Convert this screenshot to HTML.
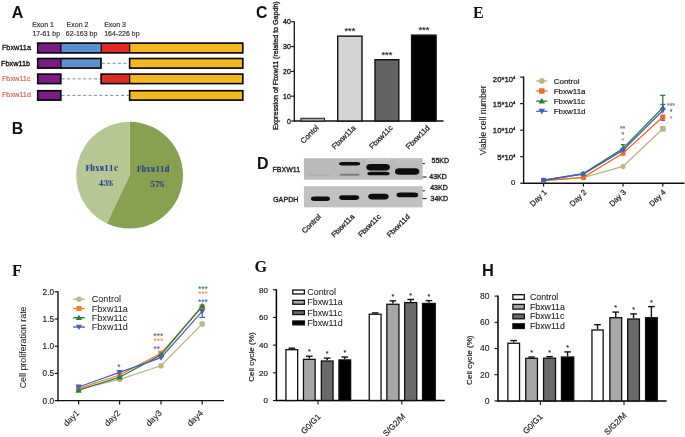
<!DOCTYPE html>
<html><head><meta charset="utf-8"><title>Figure</title>
<style>html,body{margin:0;padding:0;background:#fff;width:685px;height:437px;overflow:hidden}svg{display:block}</style>
</head><body>
<svg width="685" height="437" viewBox="0 0 685 437">
<text x="11.7" y="17.9" font-size="16" fill="#111" text-anchor="start" font-weight="bold" font-family="Liberation Sans, Arial, sans-serif">A</text>
<text x="32.2" y="27.2" font-size="7" fill="#3a3a3a" text-anchor="start" font-weight="normal" font-family="Liberation Sans, Arial, sans-serif" stroke="#3a3a3a" stroke-width="0.2">Exon 1</text>
<text x="32.4" y="35.9" font-size="7" fill="#3a3a3a" text-anchor="start" font-weight="normal" font-family="Liberation Sans, Arial, sans-serif" stroke="#3a3a3a" stroke-width="0.2">17-61 bp</text>
<text x="66.6" y="27.2" font-size="7" fill="#3a3a3a" text-anchor="start" font-weight="normal" font-family="Liberation Sans, Arial, sans-serif" stroke="#3a3a3a" stroke-width="0.2">Exon 2</text>
<text x="65.8" y="35.9" font-size="7" fill="#3a3a3a" text-anchor="start" font-weight="normal" font-family="Liberation Sans, Arial, sans-serif" stroke="#3a3a3a" stroke-width="0.2">62-163 bp</text>
<text x="104.2" y="27.2" font-size="7" fill="#3a3a3a" text-anchor="start" font-weight="normal" font-family="Liberation Sans, Arial, sans-serif" stroke="#3a3a3a" stroke-width="0.2">Exon 3</text>
<text x="104.2" y="35.9" font-size="7" fill="#3a3a3a" text-anchor="start" font-weight="normal" font-family="Liberation Sans, Arial, sans-serif" stroke="#3a3a3a" stroke-width="0.2">164-226 bp</text>
<text x="1.9" y="49.6" font-size="7.3" fill="#111" text-anchor="start" font-weight="normal" font-family="Liberation Sans, Arial, sans-serif" stroke="#111" stroke-width="0.26">Fbxw11a</text>
<text x="1.1" y="65.8" font-size="7.3" fill="#000" text-anchor="start" font-weight="normal" font-family="Liberation Sans, Arial, sans-serif" stroke="#000" stroke-width="0.26">Fbxw11b</text>
<text x="1.9" y="80.6" font-size="7.3" fill="#d9604f" text-anchor="start" font-weight="normal" font-family="Liberation Sans, Arial, sans-serif" stroke="#d9604f" stroke-width="0.15">Fbxw11c</text>
<text x="1.9" y="97.2" font-size="7.3" fill="#d9604f" text-anchor="start" font-weight="normal" font-family="Liberation Sans, Arial, sans-serif" stroke="#d9604f" stroke-width="0.15">Fbxw11d</text>
<rect x="36.9" y="42.3" width="206.7" height="11.4" fill="#000" stroke="none" stroke-width="0"/>
<rect x="38.5" y="43.9" width="21.95" height="8.2" fill="#7a1b86" stroke="none" stroke-width="0"/>
<rect x="61.55" y="43.9" width="39.1" height="8.2" fill="#5b8fd0" stroke="none" stroke-width="0"/>
<rect x="101.75" y="43.9" width="27.4" height="8.2" fill="#e02a24" stroke="none" stroke-width="0"/>
<rect x="130.25" y="43.9" width="111.75" height="8.2" fill="#f2b820" stroke="none" stroke-width="0"/>
<line x1="101.8" y1="63.3" x2="128.8" y2="63.3" stroke="#6f8fb8" stroke-width="1" stroke-dasharray="3 2.4"/>
<rect x="36.9" y="57.7" width="64.9" height="11.2" fill="#000" stroke="none" stroke-width="0"/>
<rect x="38.5" y="59.3" width="21.95" height="8" fill="#7a1b86" stroke="none" stroke-width="0"/>
<rect x="61.55" y="59.3" width="38.65" height="8" fill="#5b8fd0" stroke="none" stroke-width="0"/>
<rect x="128.8" y="57.7" width="114.8" height="11.2" fill="#000" stroke="none" stroke-width="0"/>
<rect x="130.4" y="59.3" width="111.6" height="8" fill="#f2b820" stroke="none" stroke-width="0"/>
<line x1="61.6" y1="78.85" x2="100.3" y2="78.85" stroke="#6f8fb8" stroke-width="1" stroke-dasharray="3 2.4"/>
<rect x="36.9" y="73.3" width="24.7" height="11.1" fill="#000" stroke="none" stroke-width="0"/>
<rect x="38.5" y="74.9" width="21.5" height="7.9" fill="#7a1b86" stroke="none" stroke-width="0"/>
<rect x="100.3" y="73.3" width="143.3" height="11.1" fill="#000" stroke="none" stroke-width="0"/>
<rect x="101.9" y="74.9" width="27.25" height="7.9" fill="#e02a24" stroke="none" stroke-width="0"/>
<rect x="130.25" y="74.9" width="111.75" height="7.9" fill="#f2b820" stroke="none" stroke-width="0"/>
<line x1="61.6" y1="95.4" x2="128.8" y2="95.4" stroke="#6f8fb8" stroke-width="1" stroke-dasharray="3 2.4"/>
<rect x="36.9" y="89.9" width="24.7" height="11" fill="#000" stroke="none" stroke-width="0"/>
<rect x="38.5" y="91.5" width="21.5" height="7.8" fill="#7a1b86" stroke="none" stroke-width="0"/>
<rect x="128.8" y="89.9" width="114.8" height="11" fill="#000" stroke="none" stroke-width="0"/>
<rect x="130.4" y="91.5" width="111.6" height="7.8" fill="#f2b820" stroke="none" stroke-width="0"/>
<text x="11.8" y="134.1" font-size="16" fill="#111" text-anchor="start" font-weight="bold" font-family="Liberation Sans, Arial, sans-serif">B</text>
<path d="M129.6 175.2 L129.6 121.8 A53.4 53.4 0 1 1 106.86 223.52 Z" fill="#88a151"/>
<path d="M129.6 175.2 L106.86 223.52 A53.4 53.4 0 0 1 129.6 121.8 Z" fill="#b7c794"/>
<text transform="translate(85.6 170.8) scale(1.2 1)" x="0" y="0" font-size="7.8" font-weight="800" fill="#2c468c" font-family="Noto Serif CJK SC, serif" style="font-feature-settings:&quot;hwid&quot;">Fbxw11c</text>
<text transform="translate(98.8 186) scale(1.2 1)" x="0" y="0" font-size="7.8" font-weight="800" fill="#2c468c" font-family="Noto Serif CJK SC, serif" style="font-feature-settings:&quot;hwid&quot;">43%</text>
<text transform="translate(136.7 171.5) scale(1.2 1)" x="0" y="0" font-size="7.8" font-weight="800" fill="#2c468c" font-family="Noto Serif CJK SC, serif" style="font-feature-settings:&quot;hwid&quot;">Fbxw11d</text>
<text transform="translate(150.2 186.8) scale(1.2 1)" x="0" y="0" font-size="7.8" font-weight="800" fill="#2c468c" font-family="Noto Serif CJK SC, serif" style="font-feature-settings:&quot;hwid&quot;">57%</text>
<text x="256" y="17.7" font-size="15.8" fill="#111" text-anchor="start" font-weight="bold" font-family="Liberation Sans, Arial, sans-serif">C</text>
<line x1="294.3" y1="21.3" x2="294.3" y2="121.6" stroke="#111" stroke-width="1.3"/>
<line x1="293.7" y1="121" x2="443.5" y2="121" stroke="#111" stroke-width="1.3"/>
<line x1="291.1" y1="121" x2="294.3" y2="121" stroke="#111" stroke-width="1.1"/>
<text x="290.8" y="123.5" font-size="7" fill="#222" text-anchor="end" font-weight="normal" font-family="Liberation Sans, Arial, sans-serif" stroke="#222" stroke-width="0.35">0</text>
<line x1="291.1" y1="96.2" x2="294.3" y2="96.2" stroke="#111" stroke-width="1.1"/>
<text x="290.8" y="98.7" font-size="7" fill="#222" text-anchor="end" font-weight="normal" font-family="Liberation Sans, Arial, sans-serif" stroke="#222" stroke-width="0.35">10</text>
<line x1="291.1" y1="71.4" x2="294.3" y2="71.4" stroke="#111" stroke-width="1.1"/>
<text x="290.8" y="73.9" font-size="7" fill="#222" text-anchor="end" font-weight="normal" font-family="Liberation Sans, Arial, sans-serif" stroke="#222" stroke-width="0.35">20</text>
<line x1="291.1" y1="46.6" x2="294.3" y2="46.6" stroke="#111" stroke-width="1.1"/>
<text x="290.8" y="49.1" font-size="7" fill="#222" text-anchor="end" font-weight="normal" font-family="Liberation Sans, Arial, sans-serif" stroke="#222" stroke-width="0.35">30</text>
<line x1="291.1" y1="21.8" x2="294.3" y2="21.8" stroke="#111" stroke-width="1.1"/>
<text x="290.8" y="24.3" font-size="7" fill="#222" text-anchor="end" font-weight="normal" font-family="Liberation Sans, Arial, sans-serif" stroke="#222" stroke-width="0.35">40</text>
<text x="278.4" y="65.7" font-size="7.1" fill="#222" text-anchor="middle" font-weight="normal" font-family="Liberation Sans, Arial, sans-serif" transform="rotate(-90 278.4 65.7)" stroke="#222" stroke-width="0.34">Expression of Fbxw11 (related to Gapdh)</text>
<rect x="300.9" y="118.22" width="23.7" height="2.78" fill="#a8a8a8" stroke="#111" stroke-width="0.9"/>
<rect x="337.7" y="36.14" width="24.3" height="84.86" fill="#d4d4d4" stroke="#111" stroke-width="1.4"/>
<text x="349.85" y="34.47" font-size="9.3" fill="#222" text-anchor="middle" font-family="Liberation Sans, Arial, sans-serif" stroke="#222" stroke-width="0.15">***</text>
<rect x="375" y="59.7" width="23.8" height="61.3" fill="#636363" stroke="#111" stroke-width="1.4"/>
<text x="386.9" y="58.03" font-size="9.3" fill="#222" text-anchor="middle" font-family="Liberation Sans, Arial, sans-serif" stroke="#222" stroke-width="0.15">***</text>
<rect x="411.6" y="35.14" width="24.5" height="85.86" fill="#000" stroke="#111" stroke-width="1.4"/>
<text x="423.85" y="33.48" font-size="9.3" fill="#222" text-anchor="middle" font-family="Liberation Sans, Arial, sans-serif" stroke="#222" stroke-width="0.15">***</text>
<text x="319.15" y="128.4" font-size="7.6" fill="#222" text-anchor="end" font-weight="normal" font-family="Liberation Sans, Arial, sans-serif" transform="rotate(-45 319.15 128.4)" stroke="#222" stroke-width="0.26">Contol</text>
<text x="356.25" y="128.4" font-size="7.6" fill="#222" text-anchor="end" font-weight="normal" font-family="Liberation Sans, Arial, sans-serif" transform="rotate(-45 356.25 128.4)" stroke="#222" stroke-width="0.26">Fbxw11a</text>
<text x="393.3" y="128.4" font-size="7.6" fill="#222" text-anchor="end" font-weight="normal" font-family="Liberation Sans, Arial, sans-serif" transform="rotate(-45 393.3 128.4)" stroke="#222" stroke-width="0.26">Fbxw11c</text>
<text x="430.25" y="128.4" font-size="7.6" fill="#222" text-anchor="end" font-weight="normal" font-family="Liberation Sans, Arial, sans-serif" transform="rotate(-45 430.25 128.4)" stroke="#222" stroke-width="0.26">Fbxw11d</text>
<text x="256.9" y="168.7" font-size="16" fill="#111" text-anchor="start" font-weight="bold" font-family="Liberation Sans, Arial, sans-serif">D</text>
<text x="272.6" y="172.3" font-size="7" fill="#222" text-anchor="start" font-weight="normal" font-family="Liberation Sans, Arial, sans-serif" stroke="#222" stroke-width="0.35">FBXW11</text>
<text x="273" y="201.8" font-size="7.2" fill="#222" text-anchor="start" font-weight="normal" font-family="Liberation Sans, Arial, sans-serif" stroke="#222" stroke-width="0.32">GAPDH</text>
<defs><filter id="bl" x="-20%" y="-100%" width="140%" height="300%"><feGaussianBlur stdDeviation="0.65"/></filter><linearGradient id="g1" x1="0" y1="0" x2="0" y2="1"><stop offset="0" stop-color="#c8c8c8"/><stop offset="0.5" stop-color="#c0c0c0"/><stop offset="1" stop-color="#bababa"/></linearGradient></defs>
<rect x="303.9" y="158.2" width="118.7" height="21.5" fill="#bababa" stroke="none" stroke-width="0"/>
<rect x="366" y="158.2" width="24" height="9" fill="url(#g1)" stroke="none" stroke-width="0" filter="url(#bl)"/>
<rect x="396" y="158.2" width="24" height="9" fill="url(#g1)" stroke="none" stroke-width="0" filter="url(#bl)" opacity="0.6"/>
<rect x="303.9" y="186.2" width="118.7" height="21.1" fill="#c1c1c1" stroke="none" stroke-width="0"/>
<rect x="339" y="162.1" width="21.2" height="3.4" rx="3.06" ry="1.7" fill="#0c0c0c" opacity="1" filter="url(#bl)"/>
<rect x="339.5" y="173.8" width="20.1" height="2" rx="1.8" ry="1" fill="#0c0c0c" opacity="0.35" filter="url(#bl)"/>
<rect x="309.5" y="174.15" width="20.5" height="1.5" rx="1.35" ry="0.75" fill="#0c0c0c" opacity="0.08" filter="url(#bl)"/>
<rect x="366.4" y="164.1" width="23.5" height="6.4" rx="4.27" ry="3.2" fill="#0c0c0c" opacity="1" filter="url(#bl)"/>
<rect x="367.4" y="171.65" width="22.2" height="3.7" rx="3.33" ry="1.85" fill="#0c0c0c" opacity="1" filter="url(#bl)"/>
<rect x="395" y="168.25" width="24.3" height="6.5" rx="4.42" ry="3.25" fill="#0c0c0c" opacity="1" filter="url(#bl)"/>
<rect x="311" y="196.6" width="19" height="4.4" rx="3.45" ry="2.2" fill="#0c0c0c" opacity="1" filter="url(#bl)"/>
<rect x="339.1" y="195.3" width="20.1" height="4.6" rx="3.65" ry="2.3" fill="#0c0c0c" opacity="1" filter="url(#bl)"/>
<rect x="368.2" y="193.8" width="20.5" height="5.6" rx="3.73" ry="2.8" fill="#0c0c0c" opacity="1" filter="url(#bl)"/>
<rect x="396.5" y="192.45" width="21.7" height="4.9" rx="3.95" ry="2.45" fill="#0c0c0c" opacity="1" filter="url(#bl)"/>
<line x1="422.6" y1="163.6" x2="424.8" y2="163.6" stroke="#222" stroke-width="1.1"/>
<line x1="422.6" y1="177" x2="426.6" y2="177" stroke="#222" stroke-width="1.1"/>
<line x1="422.6" y1="190.8" x2="424.8" y2="190.8" stroke="#222" stroke-width="1.1"/>
<line x1="422.6" y1="198.6" x2="426.6" y2="198.6" stroke="#222" stroke-width="1.1"/>
<text x="431.5" y="163.4" font-size="7" fill="#222" text-anchor="start" font-weight="normal" font-family="Liberation Sans, Arial, sans-serif" stroke="#222" stroke-width="0.35">55KD</text>
<text x="429.3" y="179.4" font-size="7" fill="#222" text-anchor="start" font-weight="normal" font-family="Liberation Sans, Arial, sans-serif" stroke="#222" stroke-width="0.35">43KD</text>
<text x="430.2" y="190.1" font-size="7" fill="#222" text-anchor="start" font-weight="normal" font-family="Liberation Sans, Arial, sans-serif" stroke="#222" stroke-width="0.35">43KD</text>
<text x="430.5" y="201.3" font-size="7" fill="#222" text-anchor="start" font-weight="normal" font-family="Liberation Sans, Arial, sans-serif" stroke="#222" stroke-width="0.35">34KD</text>
<text x="321.5" y="217.2" font-size="7.3" fill="#222" text-anchor="end" font-weight="normal" font-family="Liberation Sans, Arial, sans-serif" transform="rotate(-45 321.5 217.2)" stroke="#222" stroke-width="0.3">Control</text>
<text x="354.8" y="217.2" font-size="7.3" fill="#222" text-anchor="end" font-weight="normal" font-family="Liberation Sans, Arial, sans-serif" transform="rotate(-45 354.8 217.2)" stroke="#222" stroke-width="0.3">Fbxw11a</text>
<text x="381.3" y="217.2" font-size="7.3" fill="#222" text-anchor="end" font-weight="normal" font-family="Liberation Sans, Arial, sans-serif" transform="rotate(-45 381.3 217.2)" stroke="#222" stroke-width="0.3">Fbxw11c</text>
<text x="410.3" y="217.2" font-size="7.3" fill="#222" text-anchor="end" font-weight="normal" font-family="Liberation Sans, Arial, sans-serif" transform="rotate(-45 410.3 217.2)" stroke="#222" stroke-width="0.3">Fbxw11d</text>
<text x="473" y="17.9" font-size="16" fill="#111" text-anchor="start" font-weight="bold" font-family="Liberation Serif, Times New Roman, serif">E</text>
<line x1="523.6" y1="76.6" x2="523.6" y2="183.8" stroke="#111" stroke-width="1.4"/>
<line x1="523" y1="183.2" x2="684.5" y2="183.2" stroke="#111" stroke-width="1.4"/>
<line x1="520.2" y1="183.2" x2="523.6" y2="183.2" stroke="#111" stroke-width="1.2"/>
<text x="515.4" y="184.6" font-size="7.7" fill="#222" text-anchor="end" font-weight="normal" font-family="Liberation Sans, Arial, sans-serif" stroke="#222" stroke-width="0.24">0</text>
<line x1="520.2" y1="156.67" x2="523.6" y2="156.67" stroke="#111" stroke-width="1.2"/>
<text x="515.3" y="159.97" font-size="7.7" fill="#222" stroke="#222" stroke-width="0.35" text-anchor="end" font-family="Liberation Sans, Arial, sans-serif">5*10<tspan font-size="4.2" dy="-3.0">4</tspan></text>
<line x1="520.2" y1="130.15" x2="523.6" y2="130.15" stroke="#111" stroke-width="1.2"/>
<text x="515.3" y="133.45" font-size="7.7" fill="#222" stroke="#222" stroke-width="0.35" text-anchor="end" font-family="Liberation Sans, Arial, sans-serif">10*10<tspan font-size="4.2" dy="-3.0">4</tspan></text>
<line x1="520.2" y1="103.62" x2="523.6" y2="103.62" stroke="#111" stroke-width="1.2"/>
<text x="515.3" y="106.92" font-size="7.7" fill="#222" stroke="#222" stroke-width="0.35" text-anchor="end" font-family="Liberation Sans, Arial, sans-serif">15*10<tspan font-size="4.2" dy="-3.0">4</tspan></text>
<line x1="520.2" y1="77.1" x2="523.6" y2="77.1" stroke="#111" stroke-width="1.2"/>
<text x="515.3" y="82.1" font-size="7.7" fill="#222" stroke="#222" stroke-width="0.35" text-anchor="end" font-family="Liberation Sans, Arial, sans-serif">20*10<tspan font-size="4.2" dy="-3.0">4</tspan></text>
<line x1="543.6" y1="183.2" x2="543.6" y2="186.6" stroke="#111" stroke-width="1.2"/>
<line x1="583.4" y1="183.2" x2="583.4" y2="186.6" stroke="#111" stroke-width="1.2"/>
<line x1="623" y1="183.2" x2="623" y2="186.6" stroke="#111" stroke-width="1.2"/>
<line x1="662.8" y1="183.2" x2="662.8" y2="186.6" stroke="#111" stroke-width="1.2"/>
<text x="485.9" y="120.4" font-size="8.5" fill="#222" text-anchor="middle" font-weight="normal" font-family="Liberation Sans, Arial, sans-serif" transform="rotate(-90 485.9 120.4)" stroke="#222" stroke-width="0.12">Viable cell number</text>
<text x="547.2" y="192.8" font-size="7.7" fill="#222" text-anchor="end" font-weight="normal" font-family="Liberation Sans, Arial, sans-serif" transform="rotate(-45 547.2 192.8)" stroke="#222" stroke-width="0.24">Day 1</text>
<text x="587" y="192.8" font-size="7.7" fill="#222" text-anchor="end" font-weight="normal" font-family="Liberation Sans, Arial, sans-serif" transform="rotate(-45 587 192.8)" stroke="#222" stroke-width="0.24">Day 2</text>
<text x="626.6" y="192.8" font-size="7.7" fill="#222" text-anchor="end" font-weight="normal" font-family="Liberation Sans, Arial, sans-serif" transform="rotate(-45 626.6 192.8)" stroke="#222" stroke-width="0.24">Day 3</text>
<text x="666.4" y="192.8" font-size="7.7" fill="#222" text-anchor="end" font-weight="normal" font-family="Liberation Sans, Arial, sans-serif" transform="rotate(-45 666.4 192.8)" stroke="#222" stroke-width="0.24">Day 4</text>
<line x1="662.8" y1="107.6" x2="662.8" y2="95.4" stroke="#24803f" stroke-width="1.3"/>
<line x1="660.2" y1="95.4" x2="665.4" y2="95.4" stroke="#24803f" stroke-width="1.3"/>
<line x1="662.8" y1="110.52" x2="662.8" y2="104.4" stroke="#4d5fb5" stroke-width="1.2"/>
<line x1="660.2" y1="104.4" x2="665.4" y2="104.4" stroke="#4d5fb5" stroke-width="1.2"/>
<line x1="623" y1="148.51" x2="623" y2="144.6" stroke="#24803f" stroke-width="1.2"/>
<line x1="620.8" y1="144.6" x2="625.2" y2="144.6" stroke="#24803f" stroke-width="1.2"/>
<line x1="662.8" y1="116.89" x2="662.8" y2="120.2" stroke="#9a4a3a" stroke-width="1.4"/>
<line x1="660.6" y1="120.2" x2="665" y2="120.2" stroke="#9a4a3a" stroke-width="1.4"/>
<polyline points="543.6,180.55 583.4,177.63 623,166.49 662.8,128.82" fill="none" stroke="#bdb485" stroke-width="1.35"/>
<circle cx="543.6" cy="180.55" r="2.6" fill="#bdb485"/>
<circle cx="583.4" cy="177.63" r="2.6" fill="#bdb485"/>
<circle cx="623" cy="166.49" r="2.6" fill="#bdb485"/>
<circle cx="662.8" cy="128.82" r="2.6" fill="#bdb485"/>
<polyline points="543.6,180.55 583.4,177.36 623,153.28 662.8,116.89" fill="none" stroke="#e86a32" stroke-width="1.35"/>
<rect x="541.13" y="178.08" width="4.94" height="4.94" fill="#e86a32" stroke="none" stroke-width="0"/>
<rect x="580.93" y="174.89" width="4.94" height="4.94" fill="#e86a32" stroke="none" stroke-width="0"/>
<rect x="620.53" y="150.81" width="4.94" height="4.94" fill="#e86a32" stroke="none" stroke-width="0"/>
<rect x="660.33" y="114.42" width="4.94" height="4.94" fill="#e86a32" stroke="none" stroke-width="0"/>
<polyline points="543.6,180.28 583.4,173.65 623,148.51 662.8,107.6" fill="none" stroke="#24803f" stroke-width="1.35"/>
<path d="M543.6 177.29 L546.59 182.49 L540.61 182.49 Z" fill="#24803f"/>
<path d="M583.4 170.66 L586.39 175.86 L580.41 175.86 Z" fill="#24803f"/>
<path d="M623 145.52 L625.99 150.72 L620.01 150.72 Z" fill="#24803f"/>
<path d="M662.8 104.61 L665.79 109.81 L659.81 109.81 Z" fill="#24803f"/>
<polyline points="543.6,180.28 583.4,174.02 623,150.2 662.8,110.52" fill="none" stroke="#4d5fb5" stroke-width="1.35"/>
<path d="M543.6 183.27 L546.59 178.07 L540.61 178.07 Z" fill="#4d5fb5"/>
<path d="M583.4 177.01 L586.39 171.81 L580.41 171.81 Z" fill="#4d5fb5"/>
<path d="M623 153.19 L625.99 147.99 L620.01 147.99 Z" fill="#4d5fb5"/>
<path d="M662.8 113.51 L665.79 108.31 L659.81 108.31 Z" fill="#4d5fb5"/>
<rect x="660.04" y="126.07" width="5.51" height="5.51" fill="#bdb485" stroke="none" stroke-width="0"/>
<rect x="541.23" y="177.91" width="4.75" height="4.75" fill="#4d5fb5" stroke="none" stroke-width="0"/>
<text x="622.6" y="131.04" font-size="6.8" fill="#4f7f5a" text-anchor="middle" font-family="Liberation Sans, Arial, sans-serif" stroke="#4f7f5a" stroke-width="0.15">**</text>
<text x="622.8" y="136.74" font-size="6.8" fill="#4d5fb5" text-anchor="middle" font-family="Liberation Sans, Arial, sans-serif" stroke="#4d5fb5" stroke-width="0.15">*</text>
<text x="622.8" y="142.64" font-size="6.8" fill="#e8894a" text-anchor="middle" font-family="Liberation Sans, Arial, sans-serif" stroke="#e8894a" stroke-width="0.15">*</text>
<text x="671" y="107.99" font-size="6.9" fill="#6f8a70" text-anchor="middle" font-family="Liberation Sans, Arial, sans-serif" stroke="#6f8a70" stroke-width="0.15">***</text>
<text x="671.2" y="114.19" font-size="6.9" fill="#4d5fb5" text-anchor="middle" font-family="Liberation Sans, Arial, sans-serif" stroke="#4d5fb5" stroke-width="0.15">*</text>
<text x="671.2" y="120.89" font-size="6.9" fill="#e8894a" text-anchor="middle" font-family="Liberation Sans, Arial, sans-serif" stroke="#e8894a" stroke-width="0.15">*</text>
<line x1="536.2" y1="80.9" x2="547.4" y2="80.9" stroke="#bdb485" stroke-width="1.3"/>
<circle cx="541.8" cy="80.9" r="2.85" fill="#bdb485"/>
<text x="553.7" y="83.7" font-size="8" fill="#222" text-anchor="start" font-weight="normal" font-family="Liberation Sans, Arial, sans-serif" stroke="#222" stroke-width="0.2">Control</text>
<line x1="536.2" y1="91.03" x2="547.4" y2="91.03" stroke="#e86a32" stroke-width="1.3"/>
<rect x="539.09" y="88.32" width="5.42" height="5.42" fill="#e86a32" stroke="none" stroke-width="0"/>
<text x="553.7" y="93.83" font-size="8" fill="#222" text-anchor="start" font-weight="normal" font-family="Liberation Sans, Arial, sans-serif" stroke="#222" stroke-width="0.2">Fbxw11a</text>
<line x1="536.2" y1="101.16" x2="547.4" y2="101.16" stroke="#24803f" stroke-width="1.3"/>
<path d="M541.8 97.88 L545.08 103.58 L538.52 103.58 Z" fill="#24803f"/>
<text x="553.7" y="103.96" font-size="8" fill="#222" text-anchor="start" font-weight="normal" font-family="Liberation Sans, Arial, sans-serif" stroke="#222" stroke-width="0.2">Fbxw11c</text>
<line x1="536.2" y1="111.29" x2="547.4" y2="111.29" stroke="#4d5fb5" stroke-width="1.3"/>
<path d="M541.8 114.57 L545.08 108.87 L538.52 108.87 Z" fill="#4d5fb5"/>
<text x="553.7" y="114.09" font-size="8" fill="#222" text-anchor="start" font-weight="normal" font-family="Liberation Sans, Arial, sans-serif" stroke="#222" stroke-width="0.2">Fbxw11d</text>
<text x="12" y="275.7" font-size="16.2" fill="#111" text-anchor="start" font-weight="bold" font-family="Liberation Serif, Times New Roman, serif">F</text>
<line x1="58" y1="291.3" x2="58" y2="401.3" stroke="#111" stroke-width="1.4"/>
<line x1="57.3" y1="400.6" x2="224" y2="400.6" stroke="#111" stroke-width="1.4"/>
<line x1="54.7" y1="400.6" x2="58" y2="400.6" stroke="#111" stroke-width="1.2"/>
<text x="54" y="403.5" font-size="8.2" fill="#222" text-anchor="end" font-weight="normal" font-family="Liberation Sans, Arial, sans-serif" stroke="#222" stroke-width="0.17">0.0</text>
<line x1="54.7" y1="373.4" x2="58" y2="373.4" stroke="#111" stroke-width="1.2"/>
<text x="54" y="376.3" font-size="8.2" fill="#222" text-anchor="end" font-weight="normal" font-family="Liberation Sans, Arial, sans-serif" stroke="#222" stroke-width="0.17">0.5</text>
<line x1="54.7" y1="346.2" x2="58" y2="346.2" stroke="#111" stroke-width="1.2"/>
<text x="54" y="349.1" font-size="8.2" fill="#222" text-anchor="end" font-weight="normal" font-family="Liberation Sans, Arial, sans-serif" stroke="#222" stroke-width="0.17">1.0</text>
<line x1="54.7" y1="319" x2="58" y2="319" stroke="#111" stroke-width="1.2"/>
<text x="54" y="321.9" font-size="8.2" fill="#222" text-anchor="end" font-weight="normal" font-family="Liberation Sans, Arial, sans-serif" stroke="#222" stroke-width="0.17">1.5</text>
<line x1="54.7" y1="291.8" x2="58" y2="291.8" stroke="#111" stroke-width="1.2"/>
<text x="54" y="294.7" font-size="8.2" fill="#222" text-anchor="end" font-weight="normal" font-family="Liberation Sans, Arial, sans-serif" stroke="#222" stroke-width="0.17">2.0</text>
<line x1="78.6" y1="400.6" x2="78.6" y2="404.6" stroke="#111" stroke-width="1.2"/>
<line x1="119.6" y1="400.6" x2="119.6" y2="404.6" stroke="#111" stroke-width="1.2"/>
<line x1="161" y1="400.6" x2="161" y2="404.6" stroke="#111" stroke-width="1.2"/>
<line x1="202.2" y1="400.6" x2="202.2" y2="404.6" stroke="#111" stroke-width="1.2"/>
<text x="25.6" y="347.4" font-size="8.9" fill="#222" text-anchor="middle" font-weight="normal" font-family="Liberation Sans, Arial, sans-serif" transform="rotate(-90 25.6 347.4)" stroke="#222" stroke-width="0.06">Cell proliferation rate</text>
<text x="80" y="413.6" font-size="8.6" fill="#222" text-anchor="end" font-weight="normal" font-family="Liberation Sans, Arial, sans-serif" transform="rotate(-45 80 413.6)" stroke="#222" stroke-width="0.11">day1</text>
<text x="121" y="413.6" font-size="8.6" fill="#222" text-anchor="end" font-weight="normal" font-family="Liberation Sans, Arial, sans-serif" transform="rotate(-45 121 413.6)" stroke="#222" stroke-width="0.11">day2</text>
<text x="162.4" y="413.6" font-size="8.6" fill="#222" text-anchor="end" font-weight="normal" font-family="Liberation Sans, Arial, sans-serif" transform="rotate(-45 162.4 413.6)" stroke="#222" stroke-width="0.11">day3</text>
<text x="203.6" y="413.6" font-size="8.6" fill="#222" text-anchor="end" font-weight="normal" font-family="Liberation Sans, Arial, sans-serif" transform="rotate(-45 203.6 413.6)" stroke="#222" stroke-width="0.11">day4</text>
<line x1="202.2" y1="311.38" x2="202.2" y2="317.37" stroke="#4d5fb5" stroke-width="1.2"/>
<line x1="199.2" y1="317.37" x2="205.2" y2="317.37" stroke="#4d5fb5" stroke-width="1.2"/>
<polyline points="78.6,389.18 119.6,379.38 161,365.78 202.2,323.9" fill="none" stroke="#bdb485" stroke-width="1.25"/>
<circle cx="78.6" cy="389.18" r="2.8" fill="#bdb485"/>
<circle cx="119.6" cy="379.38" r="2.8" fill="#bdb485"/>
<circle cx="161" cy="365.78" r="2.8" fill="#bdb485"/>
<circle cx="202.2" cy="323.9" r="2.8" fill="#bdb485"/>
<polyline points="78.6,388.63 119.6,375.03 161,353.27 202.2,307.03" fill="none" stroke="#f07f2a" stroke-width="1.25"/>
<rect x="75.94" y="385.97" width="5.32" height="5.32" fill="#f07f2a" stroke="none" stroke-width="0"/>
<rect x="116.94" y="372.37" width="5.32" height="5.32" fill="#f07f2a" stroke="none" stroke-width="0"/>
<rect x="158.34" y="350.61" width="5.32" height="5.32" fill="#f07f2a" stroke="none" stroke-width="0"/>
<rect x="199.54" y="304.37" width="5.32" height="5.32" fill="#f07f2a" stroke="none" stroke-width="0"/>
<polyline points="78.6,390.26 119.6,377.21 161,354.9 202.2,305.94" fill="none" stroke="#24803f" stroke-width="1.25"/>
<path d="M78.6 387.04 L81.82 392.64 L75.38 392.64 Z" fill="#24803f"/>
<path d="M119.6 373.99 L122.82 379.59 L116.38 379.59 Z" fill="#24803f"/>
<path d="M161 351.68 L164.22 357.28 L157.78 357.28 Z" fill="#24803f"/>
<path d="M202.2 302.72 L205.42 308.32 L198.98 308.32 Z" fill="#24803f"/>
<polyline points="78.6,387 119.6,372.31 161,357.62 202.2,311.38" fill="none" stroke="#4d5fb5" stroke-width="1.25"/>
<path d="M78.6 390.22 L81.82 384.62 L75.38 384.62 Z" fill="#4d5fb5"/>
<path d="M119.6 375.53 L122.82 369.93 L116.38 369.93 Z" fill="#4d5fb5"/>
<path d="M161 360.84 L164.22 355.24 L157.78 355.24 Z" fill="#4d5fb5"/>
<path d="M202.2 314.6 L205.42 309 L198.98 309 Z" fill="#4d5fb5"/>
<text x="117.2" y="369.87" font-size="8.4" fill="#4f5fb3" font-family="Liberation Sans, Arial, sans-serif" stroke="#4f5fb3" stroke-width="0.12">*</text>
<text x="153.4" y="338.87" font-size="8.4" fill="#3f7f50" font-family="Liberation Sans, Arial, sans-serif" stroke="#3f7f50" stroke-width="0.12">***</text>
<text x="153.4" y="344.37" font-size="8.4" fill="#eb9660" font-family="Liberation Sans, Arial, sans-serif" stroke="#eb9660" stroke-width="0.12">***</text>
<text x="153.6" y="351.77" font-size="8.4" fill="#4f5fb3" font-family="Liberation Sans, Arial, sans-serif" stroke="#4f5fb3" stroke-width="0.12">**</text>
<text x="198" y="291.67" font-size="8.4" fill="#3f7f50" font-family="Liberation Sans, Arial, sans-serif" stroke="#3f7f50" stroke-width="0.12">***</text>
<text x="198" y="297.27" font-size="8.4" fill="#eb9660" font-family="Liberation Sans, Arial, sans-serif" stroke="#eb9660" stroke-width="0.12">***</text>
<text x="198" y="304.57" font-size="8.4" fill="#4f5fb3" font-family="Liberation Sans, Arial, sans-serif" stroke="#4f5fb3" stroke-width="0.12">***</text>
<line x1="73.1" y1="299.2" x2="84.8" y2="299.2" stroke="#bdb485" stroke-width="1.4"/>
<circle cx="79" cy="299.2" r="2.65" fill="#bdb485"/>
<text x="91.8" y="302.3" font-size="9.06" fill="#222" text-anchor="start" font-weight="normal" font-family="Liberation Sans, Arial, sans-serif" stroke="#222" stroke-width="0.04">Control</text>
<line x1="73.1" y1="308.47" x2="84.8" y2="308.47" stroke="#f07f2a" stroke-width="1.4"/>
<rect x="76.48" y="305.95" width="5.03" height="5.03" fill="#f07f2a" stroke="none" stroke-width="0"/>
<text x="91.8" y="311.57" font-size="9.06" fill="#222" text-anchor="start" font-weight="normal" font-family="Liberation Sans, Arial, sans-serif" stroke="#222" stroke-width="0.04">Fbxw11a</text>
<line x1="73.1" y1="317.74" x2="84.8" y2="317.74" stroke="#24803f" stroke-width="1.4"/>
<path d="M79 314.69 L82.05 319.99 L75.95 319.99 Z" fill="#24803f"/>
<text x="91.8" y="320.84" font-size="9.06" fill="#222" text-anchor="start" font-weight="normal" font-family="Liberation Sans, Arial, sans-serif" stroke="#222" stroke-width="0.04">Fbxw11c</text>
<line x1="73.1" y1="327.01" x2="84.8" y2="327.01" stroke="#4d5fb5" stroke-width="1.4"/>
<path d="M79 330.06 L82.05 324.76 L75.95 324.76 Z" fill="#4d5fb5"/>
<text x="91.8" y="330.11" font-size="9.06" fill="#222" text-anchor="start" font-weight="normal" font-family="Liberation Sans, Arial, sans-serif" stroke="#222" stroke-width="0.04">Fbxw11d</text>
<text x="254.5" y="271.6" font-size="16.2" fill="#111" text-anchor="start" font-weight="bold" font-family="Liberation Serif, Times New Roman, serif">G</text>
<line x1="276.4" y1="289.18" x2="276.4" y2="401.2" stroke="#000" stroke-width="1.5"/>
<line x1="275.7" y1="400.5" x2="444.8" y2="400.5" stroke="#000" stroke-width="1.5"/>
<line x1="272.9" y1="400.5" x2="276.4" y2="400.5" stroke="#111" stroke-width="1.1"/>
<text x="268" y="403.4" font-size="8" fill="#222" text-anchor="end" font-weight="normal" font-family="Liberation Sans, Arial, sans-serif" stroke="#222" stroke-width="0.2">0</text>
<line x1="272.9" y1="372.82" x2="276.4" y2="372.82" stroke="#111" stroke-width="1.1"/>
<text x="268" y="375.72" font-size="8" fill="#222" text-anchor="end" font-weight="normal" font-family="Liberation Sans, Arial, sans-serif" stroke="#222" stroke-width="0.2">20</text>
<line x1="272.9" y1="345.14" x2="276.4" y2="345.14" stroke="#111" stroke-width="1.1"/>
<text x="268" y="348.04" font-size="8" fill="#222" text-anchor="end" font-weight="normal" font-family="Liberation Sans, Arial, sans-serif" stroke="#222" stroke-width="0.2">40</text>
<line x1="272.9" y1="317.46" x2="276.4" y2="317.46" stroke="#111" stroke-width="1.1"/>
<text x="268" y="320.36" font-size="8" fill="#222" text-anchor="end" font-weight="normal" font-family="Liberation Sans, Arial, sans-serif" stroke="#222" stroke-width="0.2">60</text>
<line x1="272.9" y1="289.78" x2="276.4" y2="289.78" stroke="#111" stroke-width="1.1"/>
<text x="268" y="292.68" font-size="8" fill="#222" text-anchor="end" font-weight="normal" font-family="Liberation Sans, Arial, sans-serif" stroke="#222" stroke-width="0.2">80</text>
<line x1="318" y1="400.5" x2="318" y2="404.5" stroke="#111" stroke-width="1.1"/>
<line x1="401.8" y1="400.5" x2="401.8" y2="404.5" stroke="#111" stroke-width="1.1"/>
<text x="253.6" y="357.1" font-size="8.1" fill="#222" text-anchor="middle" font-weight="normal" font-family="Liberation Sans, Arial, sans-serif" transform="rotate(-90 253.6 357.1)" stroke="#222" stroke-width="0.19">Cell cycle (%)</text>
<line x1="291.8" y1="349.02" x2="291.8" y2="348.18" stroke="#111" stroke-width="1.4"/>
<line x1="288.5" y1="348.18" x2="295.1" y2="348.18" stroke="#111" stroke-width="1.4"/>
<rect x="285.95" y="349.67" width="11.7" height="50.83" fill="#ffffff" stroke="#111" stroke-width="1.3"/>
<line x1="309.3" y1="358.7" x2="309.3" y2="356.21" stroke="#111" stroke-width="1.4"/>
<line x1="306" y1="356.21" x2="312.6" y2="356.21" stroke="#111" stroke-width="1.4"/>
<rect x="303.45" y="359.35" width="11.7" height="41.15" fill="#a6a6a6" stroke="#111" stroke-width="1.3"/>
<text x="309.3" y="354.36" font-size="7.2" fill="#222" text-anchor="middle" font-family="Liberation Sans, Arial, sans-serif" stroke="#222" stroke-width="0.1">*</text>
<line x1="327.2" y1="360.36" x2="327.2" y2="358.15" stroke="#111" stroke-width="1.4"/>
<line x1="323.9" y1="358.15" x2="330.5" y2="358.15" stroke="#111" stroke-width="1.4"/>
<rect x="321.35" y="361.01" width="11.7" height="39.49" fill="#6a6a6a" stroke="#111" stroke-width="1.3"/>
<text x="327.2" y="356.29" font-size="7.2" fill="#222" text-anchor="middle" font-family="Liberation Sans, Arial, sans-serif" stroke="#222" stroke-width="0.1">*</text>
<line x1="344.8" y1="359.26" x2="344.8" y2="357.04" stroke="#111" stroke-width="1.4"/>
<line x1="341.5" y1="357.04" x2="348.1" y2="357.04" stroke="#111" stroke-width="1.4"/>
<rect x="338.95" y="359.91" width="11.7" height="40.59" fill="#000000" stroke="#111" stroke-width="1.3"/>
<text x="344.8" y="355.19" font-size="7.2" fill="#222" text-anchor="middle" font-family="Liberation Sans, Arial, sans-serif" stroke="#222" stroke-width="0.1">*</text>
<line x1="375.15" y1="313.58" x2="375.15" y2="312.89" stroke="#111" stroke-width="1.4"/>
<line x1="371.85" y1="312.89" x2="378.45" y2="312.89" stroke="#111" stroke-width="1.4"/>
<rect x="369.25" y="314.23" width="11.8" height="86.27" fill="#ffffff" stroke="#111" stroke-width="1.3"/>
<line x1="392.9" y1="303.62" x2="392.9" y2="300.85" stroke="#111" stroke-width="1.4"/>
<line x1="389.6" y1="300.85" x2="396.2" y2="300.85" stroke="#111" stroke-width="1.4"/>
<rect x="386.85" y="304.27" width="12.1" height="96.23" fill="#a6a6a6" stroke="#111" stroke-width="1.3"/>
<text x="392.9" y="299" font-size="7.2" fill="#222" text-anchor="middle" font-family="Liberation Sans, Arial, sans-serif" stroke="#222" stroke-width="0.1">*</text>
<line x1="410.7" y1="301.96" x2="410.7" y2="299.47" stroke="#111" stroke-width="1.4"/>
<line x1="407.4" y1="299.47" x2="414" y2="299.47" stroke="#111" stroke-width="1.4"/>
<rect x="404.65" y="302.61" width="12.1" height="97.89" fill="#6a6a6a" stroke="#111" stroke-width="1.3"/>
<text x="410.7" y="297.61" font-size="7.2" fill="#222" text-anchor="middle" font-family="Liberation Sans, Arial, sans-serif" stroke="#222" stroke-width="0.1">*</text>
<line x1="428.9" y1="302.79" x2="428.9" y2="300.58" stroke="#111" stroke-width="1.4"/>
<line x1="425.6" y1="300.58" x2="432.2" y2="300.58" stroke="#111" stroke-width="1.4"/>
<rect x="422.55" y="303.44" width="12.7" height="97.06" fill="#000000" stroke="#111" stroke-width="1.3"/>
<text x="428.9" y="298.72" font-size="7.2" fill="#222" text-anchor="middle" font-family="Liberation Sans, Arial, sans-serif" stroke="#222" stroke-width="0.1">*</text>
<rect x="292.8" y="290.05" width="11.6" height="3.9" fill="#ffffff" stroke="#111" stroke-width="1.3"/>
<text x="307.3" y="294.8" font-size="8.9" fill="#222" text-anchor="start" font-weight="normal" font-family="Liberation Sans, Arial, sans-serif" stroke="#222" stroke-width="0.06">Control</text>
<rect x="292.8" y="300.35" width="11.6" height="3.9" fill="#a6a6a6" stroke="#111" stroke-width="1.3"/>
<text x="307.3" y="305.2" font-size="8.9" fill="#222" text-anchor="start" font-weight="normal" font-family="Liberation Sans, Arial, sans-serif" stroke="#222" stroke-width="0.06">Fbxw11a</text>
<rect x="292.8" y="310.65" width="11.6" height="3.9" fill="#6a6a6a" stroke="#111" stroke-width="1.3"/>
<text x="307.3" y="315.6" font-size="8.9" fill="#222" text-anchor="start" font-weight="normal" font-family="Liberation Sans, Arial, sans-serif" stroke="#222" stroke-width="0.06">Fbxw11c</text>
<rect x="292.8" y="320.95" width="11.6" height="3.9" fill="#000000" stroke="#111" stroke-width="1.3"/>
<text x="307.3" y="326" font-size="8.9" fill="#222" text-anchor="start" font-weight="normal" font-family="Liberation Sans, Arial, sans-serif" stroke="#222" stroke-width="0.06">Fbxw11d</text>
<text x="321.3" y="417.4" font-size="8.2" fill="#222" text-anchor="end" font-weight="normal" font-family="Liberation Sans, Arial, sans-serif" transform="rotate(-45 321.3 417.4)" stroke="#222" stroke-width="0.17">G0/G1</text>
<text x="405.9" y="417" font-size="8.2" fill="#222" text-anchor="end" font-weight="normal" font-family="Liberation Sans, Arial, sans-serif" transform="rotate(-45 405.9 417)" stroke="#222" stroke-width="0.17">S/G2/M</text>
<text x="482" y="275.7" font-size="16.4" fill="#111" text-anchor="start" font-weight="bold" font-family="Liberation Sans, Arial, sans-serif">H</text>
<line x1="498" y1="295.5" x2="498" y2="401.6" stroke="#000" stroke-width="1.5"/>
<line x1="497.3" y1="400.9" x2="666.6" y2="400.9" stroke="#000" stroke-width="1.5"/>
<line x1="494.5" y1="400.9" x2="498" y2="400.9" stroke="#111" stroke-width="1.1"/>
<text x="489.4" y="403.7" font-size="8.5" fill="#222" text-anchor="end" font-weight="normal" font-family="Liberation Sans, Arial, sans-serif" stroke="#222" stroke-width="0.12">0</text>
<line x1="494.5" y1="374.7" x2="498" y2="374.7" stroke="#111" stroke-width="1.1"/>
<text x="489.4" y="377.5" font-size="8.5" fill="#222" text-anchor="end" font-weight="normal" font-family="Liberation Sans, Arial, sans-serif" stroke="#222" stroke-width="0.12">20</text>
<line x1="494.5" y1="348.5" x2="498" y2="348.5" stroke="#111" stroke-width="1.1"/>
<text x="489.4" y="351.3" font-size="8.5" fill="#222" text-anchor="end" font-weight="normal" font-family="Liberation Sans, Arial, sans-serif" stroke="#222" stroke-width="0.12">40</text>
<line x1="494.5" y1="322.3" x2="498" y2="322.3" stroke="#111" stroke-width="1.1"/>
<text x="489.4" y="325.1" font-size="8.5" fill="#222" text-anchor="end" font-weight="normal" font-family="Liberation Sans, Arial, sans-serif" stroke="#222" stroke-width="0.12">60</text>
<line x1="494.5" y1="296.1" x2="498" y2="296.1" stroke="#111" stroke-width="1.1"/>
<text x="489.4" y="298.9" font-size="8.5" fill="#222" text-anchor="end" font-weight="normal" font-family="Liberation Sans, Arial, sans-serif" stroke="#222" stroke-width="0.12">80</text>
<line x1="540.4" y1="400.9" x2="540.4" y2="404.9" stroke="#111" stroke-width="1.1"/>
<line x1="624" y1="400.9" x2="624" y2="404.9" stroke="#111" stroke-width="1.1"/>
<text x="472" y="360.2" font-size="8.1" fill="#222" text-anchor="middle" font-weight="normal" font-family="Liberation Sans, Arial, sans-serif" transform="rotate(-90 472 360.2)" stroke="#222" stroke-width="0.19">Cell cycle (%)</text>
<line x1="513.7" y1="342.6" x2="513.7" y2="340.51" stroke="#111" stroke-width="1.4"/>
<line x1="510.4" y1="340.51" x2="517" y2="340.51" stroke="#111" stroke-width="1.4"/>
<rect x="507.85" y="343.25" width="11.7" height="57.65" fill="#ffffff" stroke="#111" stroke-width="1.3"/>
<line x1="531.6" y1="357.67" x2="531.6" y2="357.01" stroke="#111" stroke-width="1.4"/>
<line x1="528.3" y1="357.01" x2="534.9" y2="357.01" stroke="#111" stroke-width="1.4"/>
<rect x="525.75" y="358.32" width="11.7" height="42.58" fill="#a6a6a6" stroke="#111" stroke-width="1.3"/>
<text x="531.6" y="355.16" font-size="7.2" fill="#222" text-anchor="middle" font-family="Liberation Sans, Arial, sans-serif" stroke="#222" stroke-width="0.1">*</text>
<line x1="549.55" y1="357.54" x2="549.55" y2="356.62" stroke="#111" stroke-width="1.4"/>
<line x1="546.25" y1="356.62" x2="552.85" y2="356.62" stroke="#111" stroke-width="1.4"/>
<rect x="543.55" y="358.19" width="12" height="42.71" fill="#6a6a6a" stroke="#111" stroke-width="1.3"/>
<text x="549.55" y="354.77" font-size="7.2" fill="#222" text-anchor="middle" font-family="Liberation Sans, Arial, sans-serif" stroke="#222" stroke-width="0.1">*</text>
<line x1="567.6" y1="356.36" x2="567.6" y2="351.91" stroke="#111" stroke-width="1.4"/>
<line x1="564.3" y1="351.91" x2="570.9" y2="351.91" stroke="#111" stroke-width="1.4"/>
<rect x="561.45" y="357.01" width="12.3" height="43.89" fill="#000000" stroke="#111" stroke-width="1.3"/>
<text x="567.6" y="350.05" font-size="7.2" fill="#222" text-anchor="middle" font-family="Liberation Sans, Arial, sans-serif" stroke="#222" stroke-width="0.1">*</text>
<line x1="597.55" y1="329.37" x2="597.55" y2="324.66" stroke="#111" stroke-width="1.4"/>
<line x1="594.25" y1="324.66" x2="600.85" y2="324.66" stroke="#111" stroke-width="1.4"/>
<rect x="591.95" y="330.02" width="11.2" height="70.88" fill="#ffffff" stroke="#111" stroke-width="1.3"/>
<line x1="615.75" y1="317.06" x2="615.75" y2="312.08" stroke="#111" stroke-width="1.4"/>
<line x1="612.45" y1="312.08" x2="619.05" y2="312.08" stroke="#111" stroke-width="1.4"/>
<rect x="609.85" y="317.71" width="11.8" height="83.19" fill="#a6a6a6" stroke="#111" stroke-width="1.3"/>
<text x="615.75" y="310.23" font-size="7.2" fill="#222" text-anchor="middle" font-family="Liberation Sans, Arial, sans-serif" stroke="#222" stroke-width="0.1">*</text>
<line x1="633.55" y1="318.37" x2="633.55" y2="313.92" stroke="#111" stroke-width="1.4"/>
<line x1="630.25" y1="313.92" x2="636.85" y2="313.92" stroke="#111" stroke-width="1.4"/>
<rect x="627.65" y="319.02" width="11.8" height="81.88" fill="#6a6a6a" stroke="#111" stroke-width="1.3"/>
<text x="633.55" y="312.06" font-size="7.2" fill="#222" text-anchor="middle" font-family="Liberation Sans, Arial, sans-serif" stroke="#222" stroke-width="0.1">*</text>
<line x1="651.4" y1="317.06" x2="651.4" y2="306.58" stroke="#111" stroke-width="1.4"/>
<line x1="648.1" y1="306.58" x2="654.7" y2="306.58" stroke="#111" stroke-width="1.4"/>
<rect x="645.55" y="317.71" width="11.7" height="83.19" fill="#000000" stroke="#111" stroke-width="1.3"/>
<text x="651.4" y="304.72" font-size="7.2" fill="#222" text-anchor="middle" font-family="Liberation Sans, Arial, sans-serif" stroke="#222" stroke-width="0.1">*</text>
<rect x="512.9" y="294.7" width="11.4" height="4.7" fill="#ffffff" stroke="#111" stroke-width="1.3"/>
<text x="530" y="300" font-size="8.75" fill="#222" text-anchor="start" font-weight="normal" font-family="Liberation Sans, Arial, sans-serif" stroke="#222" stroke-width="0.09">Control</text>
<rect x="512.9" y="304.4" width="11.4" height="4.7" fill="#a6a6a6" stroke="#111" stroke-width="1.3"/>
<text x="530" y="309.7" font-size="8.75" fill="#222" text-anchor="start" font-weight="normal" font-family="Liberation Sans, Arial, sans-serif" stroke="#222" stroke-width="0.09">Fbxw11a</text>
<rect x="512.9" y="314.1" width="11.4" height="4.7" fill="#6a6a6a" stroke="#111" stroke-width="1.3"/>
<text x="530" y="319.4" font-size="8.75" fill="#222" text-anchor="start" font-weight="normal" font-family="Liberation Sans, Arial, sans-serif" stroke="#222" stroke-width="0.09">Fbxw11c</text>
<rect x="512.9" y="323.8" width="11.4" height="4.7" fill="#000000" stroke="#111" stroke-width="1.3"/>
<text x="530" y="329.1" font-size="8.75" fill="#222" text-anchor="start" font-weight="normal" font-family="Liberation Sans, Arial, sans-serif" stroke="#222" stroke-width="0.09">Fbxw11d</text>
<text x="543.3" y="417.4" font-size="8.2" fill="#222" text-anchor="end" font-weight="normal" font-family="Liberation Sans, Arial, sans-serif" transform="rotate(-45 543.3 417.4)" stroke="#222" stroke-width="0.17">G0/G1</text>
<text x="627.2" y="415.8" font-size="8.2" fill="#222" text-anchor="end" font-weight="normal" font-family="Liberation Sans, Arial, sans-serif" transform="rotate(-45 627.2 415.8)" stroke="#222" stroke-width="0.17">S/G2/M</text>
</svg>
</body></html>
